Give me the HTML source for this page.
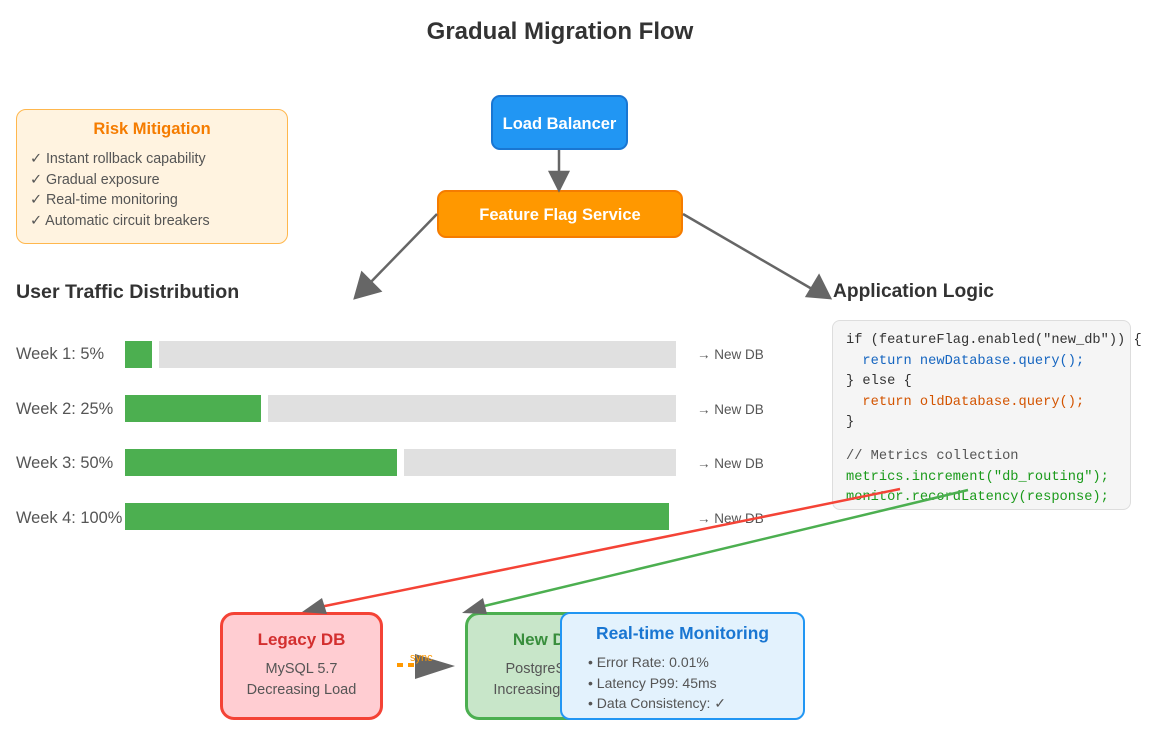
<!DOCTYPE html>
<html><head><meta charset="utf-8"><style>
body{margin:0;width:1158px;height:736px;background:#fff;position:relative;overflow:hidden;font-family:"Liberation Sans",sans-serif;color:#333}
.a{position:absolute}
.box{position:absolute;box-sizing:border-box}
.c{text-align:center}
.code{font-family:"Liberation Mono",monospace;font-size:13.7px;white-space:pre;position:absolute;left:846px}
.lbl{position:absolute;left:16px;font-size:16.4px;color:#555}
.nd{position:absolute;left:697px;font-size:13.5px;color:#555}
.g{position:absolute;background:#4caf50;height:27px}
.gr{position:absolute;background:#e0e0e0;height:27px}
</style></head><body>
<div class="a c" style="left:0;width:1120px;top:18px;font-size:24px;font-weight:bold">Gradual Migration Flow</div>

<div class="box" style="left:16px;top:109px;width:272px;height:135px;background:#fff3e0;border:1.5px solid #ffb74d;border-radius:10px"></div>
<div class="a c" style="left:16px;width:272px;top:120px;font-size:16.5px;font-weight:bold;color:#f57c00">Risk Mitigation</div>
<div class="a" style="left:30px;top:149px;font-size:14.3px;color:#555;line-height:20.5px">✓ Instant rollback capability<br>✓ Gradual exposure<br>✓ Real-time monitoring<br>✓ Automatic circuit breakers</div>

<div class="box c" style="left:491px;top:95px;width:137px;height:55px;background:#2196f3;border:2px solid #1976d2;border-radius:9px;color:#fff;font-weight:bold;font-size:16.5px;line-height:54px">Load Balancer</div>
<div class="box c" style="left:437px;top:190px;width:246px;height:48px;background:#ff9800;border:2px solid #f57c00;border-radius:9px;color:#fff;font-weight:bold;font-size:16.5px;line-height:46px">Feature Flag Service</div>

<div class="a" style="left:16px;top:281px;font-size:19.6px;font-weight:bold">User Traffic Distribution</div>
<div class="a" style="left:833px;top:281px;font-size:19.2px;font-weight:bold">Application Logic</div>

<div class="lbl" style="top:345px">Week 1: 5%</div>
<div class="g" style="left:125px;top:341px;width:27px"></div><div class="gr" style="left:159px;top:341px;width:517px"></div>
<div class="nd" style="top:347px">→ New DB</div>
<div class="lbl" style="top:400px">Week 2: 25%</div>
<div class="g" style="left:125px;top:395px;width:136px"></div><div class="gr" style="left:268px;top:395px;width:408px"></div>
<div class="nd" style="top:402px">→ New DB</div>
<div class="lbl" style="top:454px">Week 3: 50%</div>
<div class="g" style="left:125px;top:449px;width:272px"></div><div class="gr" style="left:404px;top:449px;width:272px"></div>
<div class="nd" style="top:456px">→ New DB</div>
<div class="lbl" style="top:509px">Week 4: 100%</div>
<div class="g" style="left:125px;top:503px;width:544px"></div>
<div class="nd" style="top:511px">→ New DB</div>

<div class="box" style="left:832px;top:320px;width:299px;height:190px;background:#f5f5f5;border:1.5px solid #ddd;border-radius:8px"></div>
<div class="code" style="top:333px">if (featureFlag.enabled("new_db")) {</div>
<div class="code" style="top:354px;color:#1565c0">  return newDatabase.query();</div>
<div class="code" style="top:374px">} else {</div>
<div class="code" style="top:395px;color:#d35400">  return oldDatabase.query();</div>
<div class="code" style="top:415px">}</div>
<div class="code" style="top:449px;color:#555">// Metrics collection</div>
<div class="code" style="top:470px;color:#1a9a1a">metrics.increment("db_routing");</div>
<div class="code" style="top:490px;color:#1a9a1a">monitor.recordLatency(response);</div>

<div class="box" style="left:220px;top:612px;width:163px;height:108px;background:#ffcdd2;border:3px solid #f44336;border-radius:14px"></div>
<div class="a c" style="left:220px;width:163px;top:630px;font-size:17px;font-weight:bold;color:#d32f2f">Legacy DB</div>
<div class="a c" style="left:220px;width:163px;top:659px;font-size:14.5px;color:#555;line-height:21px">MySQL 5.7<br>Decreasing Load</div>

<div class="box" style="left:465px;top:612px;width:160px;height:108px;background:#c8e6c9;border:3px solid #4caf50;border-radius:14px"></div>
<div class="a c" style="left:465px;width:160px;top:630px;font-size:17px;font-weight:bold;color:#388e3c">New DB</div>
<div class="a c" style="left:465px;width:160px;top:659px;font-size:14.5px;color:#555;line-height:21px">PostgreSQL<br>Increasing Load</div>

<div class="box" style="left:560px;top:612px;width:245px;height:108px;background:#e3f2fd;border:2.5px solid #2196f3;border-radius:10px"></div>
<div class="a c" style="left:560px;width:245px;top:623px;font-size:17.4px;font-weight:bold;color:#1976d2">Real-time Monitoring</div>
<div class="a" style="left:588px;top:652px;font-size:14px;color:#555;line-height:20.5px">• Error Rate: 0.01%<br>• Latency P99: 45ms<br>• Data Consistency: ✓</div>

<svg class="a" style="left:0;top:0" width="1158" height="736">
<g stroke="#666" stroke-width="2.5" fill="#666">
<line x1="559" y1="150" x2="559" y2="176"/><polygon points="550,172 568,172 559,190"/>
<line x1="437" y1="214" x2="368" y2="285"/><polygon points="355,298 362,273 380,291"/>
<line x1="683" y1="214" x2="812" y2="289"/><polygon points="830,298 807,296 819,276"/>
</g>
<line x1="900" y1="489" x2="320" y2="607" stroke="#f44336" stroke-width="2.5"/>
<polygon points="302,612 322,598 327,614" fill="#666"/>
<line x1="968" y1="490" x2="480" y2="607" stroke="#4caf50" stroke-width="2.5"/>
<polygon points="462,613 483,598 487,614" fill="#666"/>
<line x1="397" y1="665" x2="440" y2="665" stroke="#ff9800" stroke-width="4" stroke-dasharray="6,5"/>
<polygon points="415,654 415,679 455,666" fill="#666"/>
<text x="410" y="661" font-size="11" fill="#ff9800" font-family="Liberation Sans">sync</text>
</svg>
</body></html>
